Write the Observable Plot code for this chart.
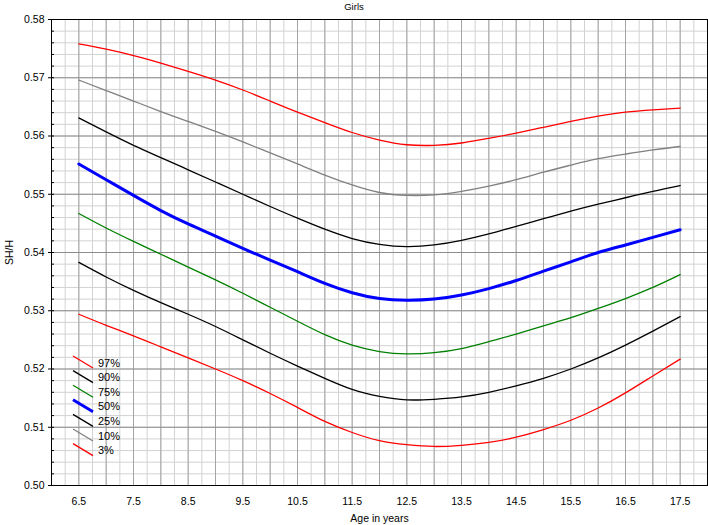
<!DOCTYPE html>
<html>
<head>
<meta charset="utf-8">
<script src="https://cdn.jsdelivr.net/npm/d3@7"></script>
<script src="https://cdn.jsdelivr.net/npm/@observablehq/plot@0.6"></script>
<style>
  html, body { margin: 0; padding: 0; background: #fff; }
  #wrap { position: relative; width: 708px; height: 525px; font-family: "Liberation Sans", Arial, sans-serif; }
  #overlay { position: absolute; left: 0; top: 0; pointer-events: none; }
</style>
</head>
<body>
<div id="wrap"></div>
<script>
// ---- data ----
const ages = [6.5, 7, 7.5, 8, 8.5, 9, 9.5, 10, 10.5, 11, 11.5, 12, 12.5, 13, 13.5, 14, 14.5, 15, 15.5, 16, 16.5, 17, 17.5];

// curves listed top to bottom as drawn
const curveRedTop   = [0.5758, 0.5749, 0.5738, 0.5725, 0.5711, 0.5696, 0.5679, 0.5660, 0.5641, 0.5623, 0.5606, 0.5593, 0.5585, 0.5584, 0.5588, 0.5596, 0.5605, 0.5615, 0.5625, 0.5634, 0.5641, 0.5645, 0.5648];
const curveGray     = [0.5696, 0.5678, 0.5660, 0.5642, 0.5625, 0.5608, 0.5590, 0.5571, 0.5552, 0.5533, 0.5516, 0.5503, 0.5498, 0.5499, 0.5505, 0.5514, 0.5525, 0.5538, 0.5550, 0.5561, 0.5569, 0.5576, 0.5582];
const curveBlackTop = [0.5631, 0.5607, 0.5584, 0.5563, 0.5542, 0.5521, 0.5500, 0.5479, 0.5459, 0.5440, 0.5424, 0.5414, 0.5410, 0.5413, 0.5421, 0.5432, 0.5445, 0.5458, 0.5471, 0.5483, 0.5494, 0.5505, 0.5515];
const curveBlue     = [0.5552, 0.5525, 0.5498, 0.5472, 0.5449, 0.5428, 0.5407, 0.5387, 0.5367, 0.5347, 0.5331, 0.5321, 0.5318, 0.5320, 0.5327, 0.5338, 0.5352, 0.5368, 0.5384, 0.5400, 0.5413, 0.5426, 0.5439];
const curveGreen    = [0.5467, 0.5442, 0.5419, 0.5397, 0.5375, 0.5353, 0.5330, 0.5306, 0.5282, 0.5259, 0.5241, 0.5230, 0.5226, 0.5228, 0.5235, 0.5247, 0.5260, 0.5274, 0.5288, 0.5304, 0.5321, 0.5340, 0.5362];
const curveBlackLow = [0.5383, 0.5358, 0.5335, 0.5314, 0.5294, 0.5273, 0.5250, 0.5227, 0.5205, 0.5184, 0.5165, 0.5153, 0.5147, 0.5148, 0.5152, 0.5160, 0.5171, 0.5184, 0.5200, 0.5219, 0.5241, 0.5265, 0.5290];
const curveRedLow   = [0.5294, 0.5275, 0.5257, 0.5238, 0.5219, 0.5200, 0.5180, 0.5158, 0.5134, 0.5110, 0.5091, 0.5077, 0.5070, 0.5067, 0.5069, 0.5074, 0.5083, 0.5096, 0.5112, 0.5133, 0.5159, 0.5188, 0.5217];

const seriesNames  = ["redTop", "gray", "blackTop", "blue", "green", "blackLow", "redLow"];
const seriesValues = [curveRedTop, curveGray, curveBlackTop, curveBlue, curveGreen, curveBlackLow, curveRedLow];
const seriesColors = ["#ff0000", "#808080", "#000000", "#0000ff", "#008000", "#000000", "#ff0000"];
const seriesWidths = [1.3, 1.3, 1.3, 3, 1.3, 1.3, 1.3];

// legend (as printed in the chart)
const legendLabels = ["97%", "90%", "75%", "50%", "25%", "10%", "3%"];
const legendColors = ["#ff0000", "#000000", "#008000", "#0000ff", "#000000", "#808080", "#ff0000"];
const legendWidths = [1.3, 1.3, 1.3, 3, 1.3, 1.3, 1.3];

// ticks
const xTicks = [6.5, 7.5, 8.5, 9.5, 10.5, 11.5, 12.5, 13.5, 14.5, 15.5, 16.5, 17.5];
const yTicks = [0.50, 0.51, 0.52, 0.53, 0.54, 0.55, 0.56, 0.57, 0.58];

const titleText = "Girls";
const xLabel = "Age in years";
const yLabel = "SH/H";

// ---- build table ----
const rows = [];
seriesValues.forEach((vals, i) => {
  vals.forEach((v, j) => rows.push({ series: seriesNames[i], age: ages[j], value: v }));
});

const xMinor = d3.range(6, 18.001, 0.25).map(d => +d.toFixed(2));
const xMajor = d3.range(6, 18.001, 0.5).map(d => +d.toFixed(2));
const yMinor = d3.range(0.50, 0.5801, 0.002).map(d => +d.toFixed(3));
const yMajor = yTicks;

const lineMarks = seriesNames.map((name, i) =>
  Plot.line(rows.filter(r => r.series === name), {
    x: "age", y: "value", stroke: seriesColors[i], strokeWidth: seriesWidths[i], curve: "natural"
  })
);

const chart = Plot.plot({
  width: 708,
  height: 525,
  marginLeft: 51,
  marginRight: 1,
  marginTop: 19,
  marginBottom: 40,
  style: { fontFamily: "'Liberation Sans', Arial, sans-serif", fontSize: "10.5px", background: "#fff", color: "#000" },
  x: { domain: [6, 18] },
  y: { domain: [0.50, 0.58] },
  marks: [
    Plot.ruleX(xMinor, { stroke: "#d2d2d2", strokeWidth: 1 }),
    Plot.ruleY(yMinor, { stroke: "#d2d2d2", strokeWidth: 1 }),
    Plot.ruleX(xMajor, { stroke: "#a4a4a4", strokeWidth: 1 }),
    Plot.ruleY(yMajor, { stroke: "#8c8c8c", strokeWidth: 1 }),
    ...lineMarks,
    Plot.frame({ stroke: "#000", strokeWidth: 1 }),
    Plot.axisX({ ticks: xTicks, tickSize: 0, tickPadding: 12, tickFormat: d => d.toFixed(1),
      label: xLabel, labelAnchor: "center", labelOffset: 36, labelArrow: "none", fontSize: 10.5 }),
    Plot.axisY({ ticks: yMinor, tickSize: -3, text: null, label: null }),
    Plot.axisY({ ticks: yTicks, tickSize: 3, tickPadding: 4, tickFormat: d => d.toFixed(2),
      label: yLabel, labelAnchor: "center", labelOffset: 46, labelArrow: "none", fontSize: 10.5 })
  ]
});

const wrap = document.getElementById("wrap");
wrap.appendChild(chart);

// overlay: title + legend
const ns = "http://www.w3.org/2000/svg";
const ov = document.createElementNS(ns, "svg");
ov.setAttribute("id", "overlay");
ov.setAttribute("width", 708);
ov.setAttribute("height", 525);
ov.setAttribute("font-family", "'Liberation Sans', Arial, sans-serif");

const t = document.createElementNS(ns, "text");
t.setAttribute("x", 354);
t.setAttribute("y", 10);
t.setAttribute("text-anchor", "middle");
t.setAttribute("font-size", "9.5");
t.textContent = titleText;
ov.appendChild(t);

legendLabels.forEach((lab, i) => {
  const y0 = 356 + i * 14.6;
  const l = document.createElementNS(ns, "line");
  l.setAttribute("x1", 73); l.setAttribute("y1", y0);
  l.setAttribute("x2", 93); l.setAttribute("y2", y0 + 12);
  l.setAttribute("stroke", legendColors[i]);
  l.setAttribute("stroke-width", legendWidths[i]);
  ov.appendChild(l);
  const tx = document.createElementNS(ns, "text");
  tx.setAttribute("x", 98);
  tx.setAttribute("y", y0 + 10.5);
  tx.setAttribute("font-size", "11");
  tx.setAttribute("fill", "#000");
  tx.textContent = lab;
  ov.appendChild(tx);
});
wrap.appendChild(ov);
</script>
</body>
</html>
